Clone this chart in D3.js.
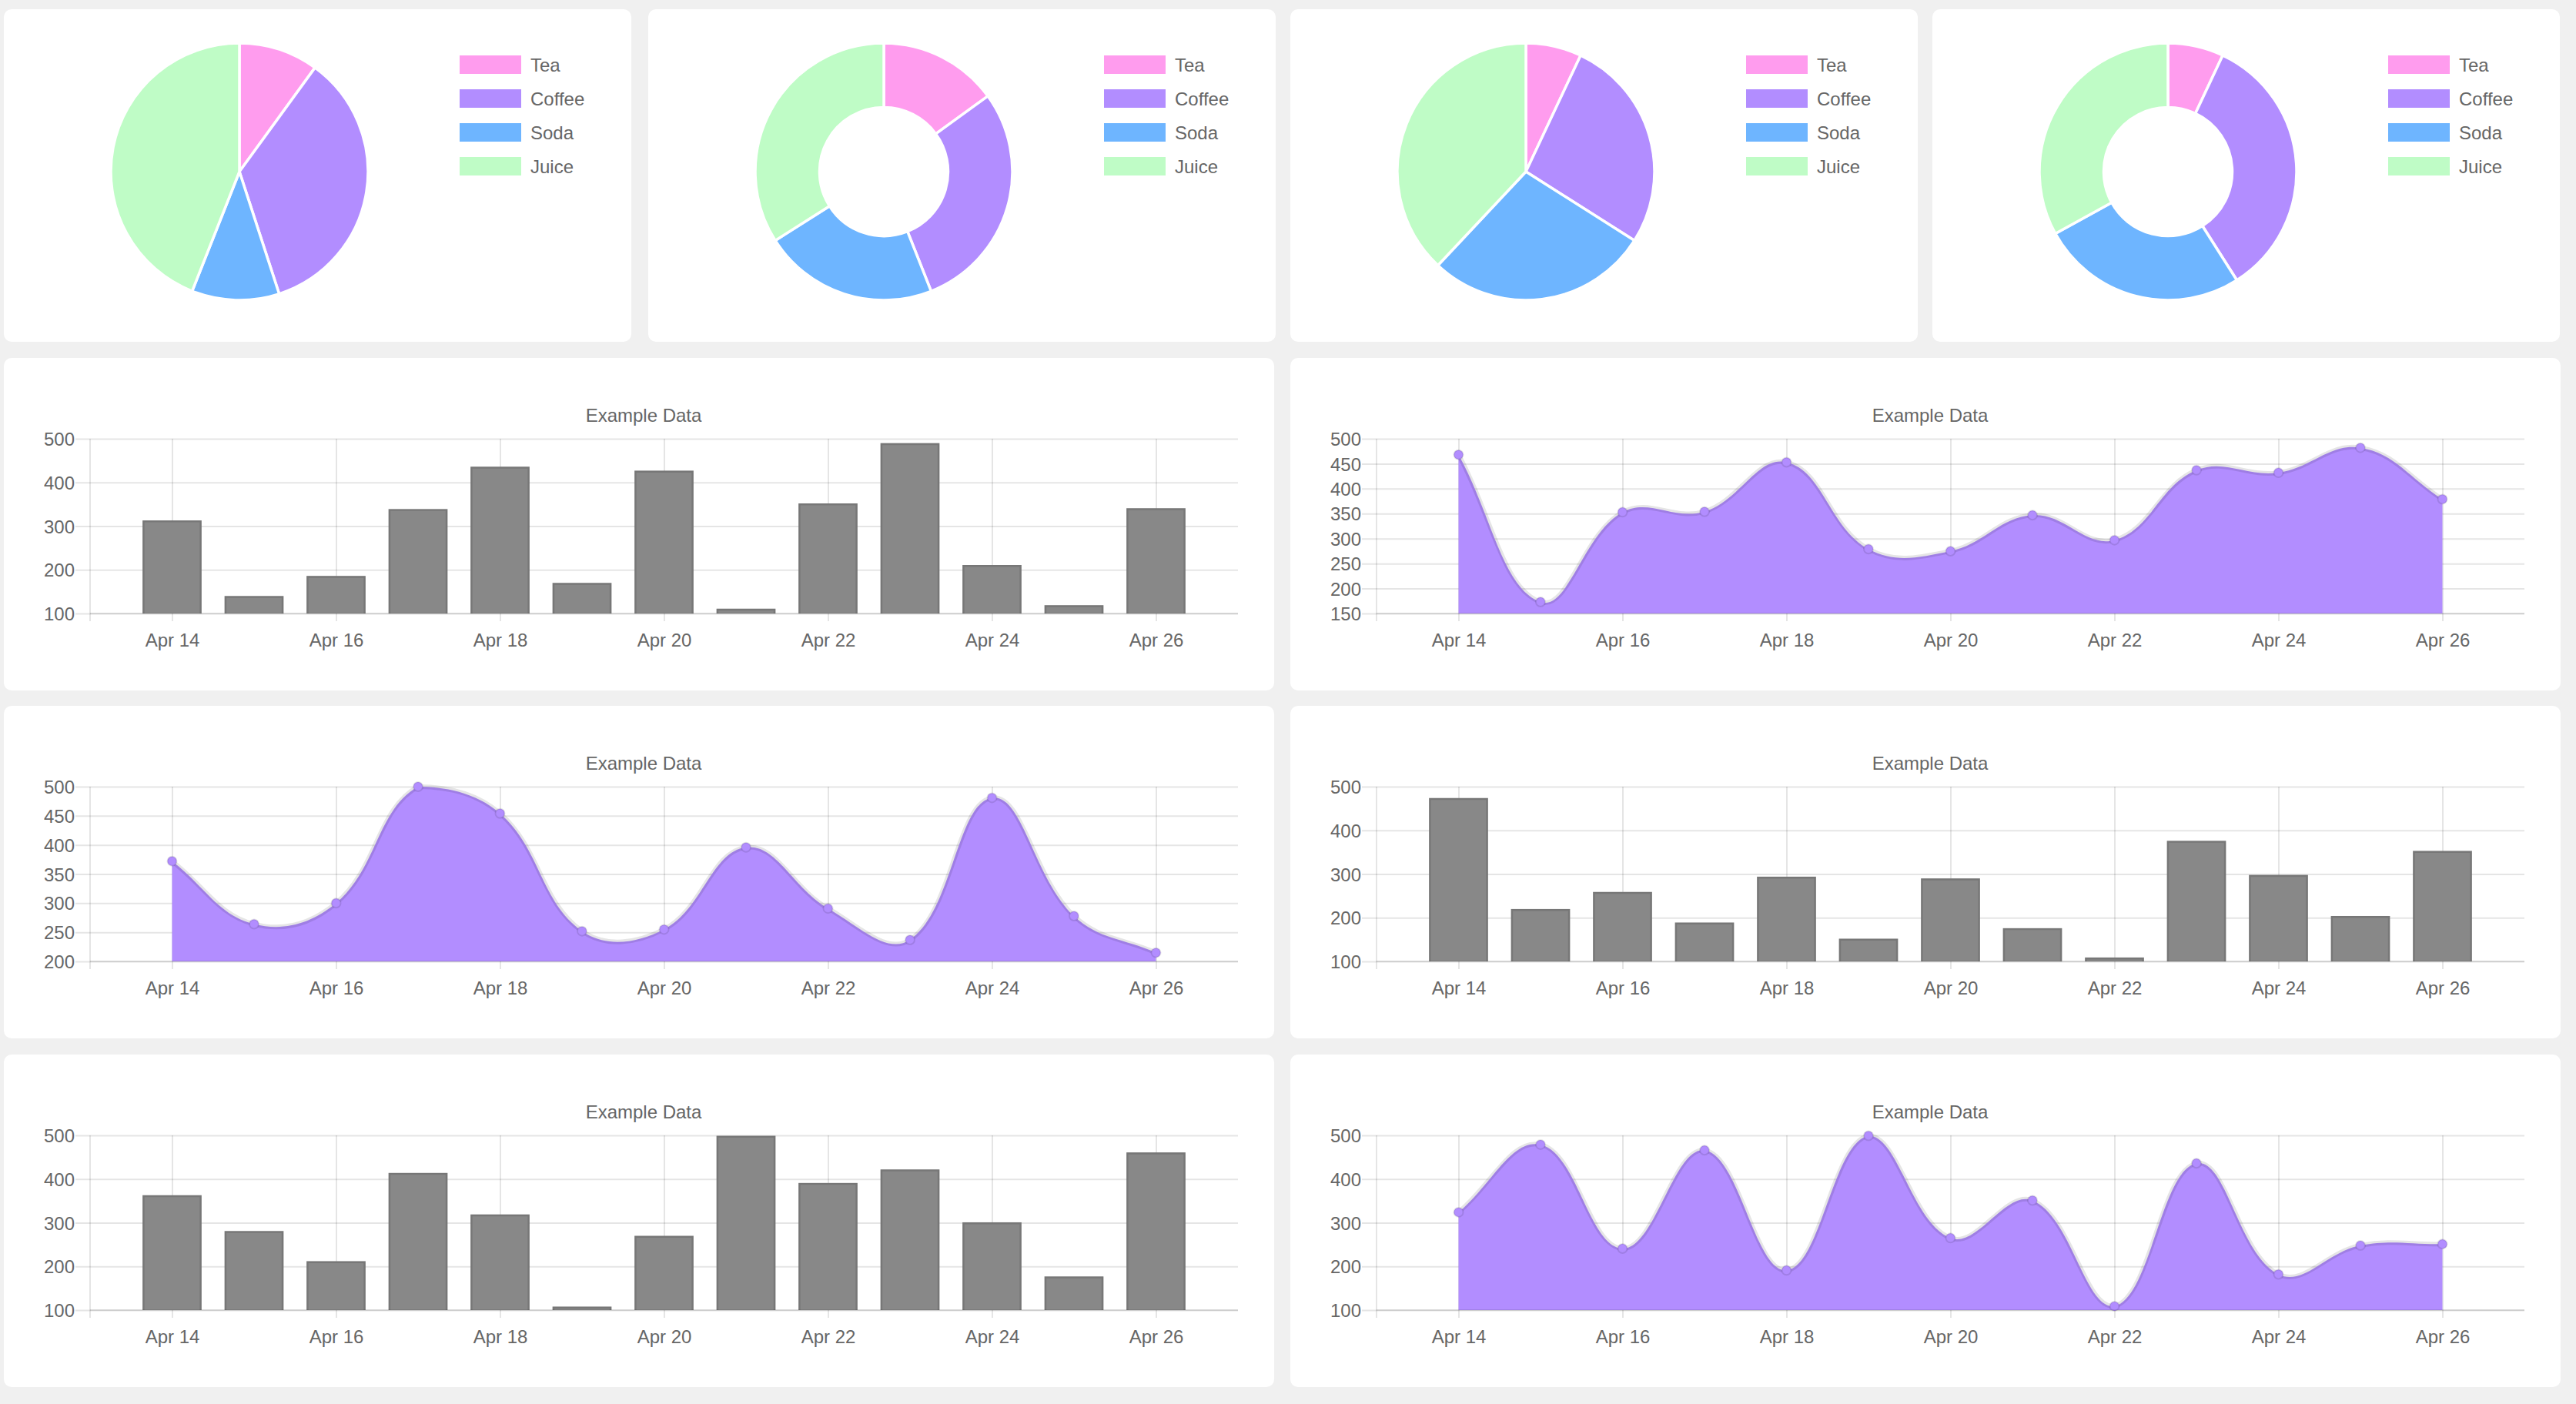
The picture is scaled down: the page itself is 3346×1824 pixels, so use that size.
<!DOCTYPE html>
<html>
<head>
<meta charset="utf-8">
<script src="https://cdn.jsdelivr.net/npm/d3@7"></script>
<style>
  html, body { margin: 0; padding: 0; background: #f0f0f0; overflow: hidden; }
  svg { display: block; }
  text { font-family: "Helvetica Neue", Helvetica, Arial, "Liberation Sans", sans-serif; font-size: 24px; fill: #666; }
</style>
</head>
<body>
<script>
// ---- data ----
const drinks = ["Tea", "Coffee", "Soda", "Juice"];
const drinkColors = ["#ff9cee", "#b28dff", "#6eb5ff", "#bffcc6"];

const pieA = [10, 35, 11, 44];
const donutB = [15, 29, 22, 34];
const pieC = [7, 27, 28, 38];
const donutD = [7, 34, 26, 33];

const days = ["Apr 14", "Apr 15", "Apr 16", "Apr 17", "Apr 18", "Apr 19", "Apr 20",
              "Apr 21", "Apr 22", "Apr 23", "Apr 24", "Apr 25", "Apr 26"];
const dayTicks = ["Apr 14", "Apr 16", "Apr 18", "Apr 20", "Apr 22", "Apr 24", "Apr 26"];

const barsA = [313, 140, 186, 339, 436, 170, 427, 111, 352, 490, 211, 119, 341];
const lineA = [468, 173, 353, 354, 453, 279, 275, 347, 297, 437, 432, 482, 379];
const lineB = [372, 264, 300, 500, 454, 252, 255, 396, 291, 237, 481, 278, 215];
const barsB = [474, 220, 259, 189, 294, 152, 290, 176, 109, 376, 298, 204, 353];
const barsC = [363, 281, 212, 414, 319, 108, 270, 499, 391, 422, 301, 177, 461];
const lineC = [324, 479, 241, 466, 191, 499, 265, 351, 109, 436, 182, 248, 251];

const ticksBy100 = [100, 200, 300, 400, 500];
const ticksFrom150 = [150, 200, 250, 300, 350, 400, 450, 500];
const ticksFrom200 = [200, 250, 300, 350, 400, 450, 500];

// ---- layout ----
const W = 3346, H = 1824;
const cardH = 432;
const rowY = [12, 465, 917, 1370];
const pieCardX = [5, 842, 1676, 2510], pieCardW = 815;
const wideCardX = [5, 1676], wideCardW = 1650;
const plot = { left: 112, right: 1603, top: 105, bottom: 332 };
const pieR = 167;

const pies = [
  { values: pieA, hole: false },
  { values: donutB, hole: true },
  { values: pieC, hole: false },
  { values: donutD, hole: true }
];

const panels = [
  { row: 1, col: 0, kind: "bar", values: barsA, ticks: ticksBy100 },
  { row: 1, col: 1, kind: "line", values: lineA, ticks: ticksFrom150 },
  { row: 2, col: 0, kind: "line", values: lineB, ticks: ticksFrom200 },
  { row: 2, col: 1, kind: "bar", values: barsB, ticks: ticksBy100 },
  { row: 3, col: 0, kind: "bar", values: barsC, ticks: ticksBy100 },
  { row: 3, col: 1, kind: "line", values: lineC, ticks: ticksBy100 }
];

const svg = d3.select("body")
  .append("svg")
    .attr("width", W)
    .attr("height", H);

svg.append("rect")
    .attr("width", W)
    .attr("height", H)
    .attr("fill", "#f0f0f0");

function card(x, y, w) {
  const g = svg.append("g").attr("transform", `translate(${x},${y})`);
  g.append("rect")
      .attr("width", w)
      .attr("height", cardH)
      .attr("rx", 10)
      .attr("fill", "#fff");
  return g;
}

// Chart.js style spline (tension 0.4), handles kept inside the plot area
function chartSpline(top, bottom, tension) {
  return function (context) {
    let pts = [];
    let line;
    const cap = v => Math.max(top, Math.min(bottom, v));
    function handles(i) {
      const cur = pts[i], prev = pts[i - 1] || cur, next = pts[i + 1] || cur;
      const d01 = Math.hypot(cur[0] - prev[0], cur[1] - prev[1]);
      const d12 = Math.hypot(next[0] - cur[0], next[1] - cur[1]);
      const s01 = d01 / (d01 + d12) || 0, s12 = d12 / (d01 + d12) || 0;
      const dx = next[0] - prev[0], dy = next[1] - prev[1];
      return {
        before: [cur[0] - tension * s01 * dx, cap(cur[1] - tension * s01 * dy)],
        after: [cur[0] + tension * s12 * dx, cap(cur[1] + tension * s12 * dy)]
      };
    }
    return {
      areaStart() { line = 0; },
      areaEnd() { line = NaN; },
      lineStart() { pts = []; },
      point(x, y) { pts.push([+x, +y]); },
      lineEnd() {
        pts.forEach((p, i) => {
          if (i === 0) {
            if (line) context.lineTo(p[0], p[1]); else context.moveTo(p[0], p[1]);
            return;
          }
          const a = handles(i - 1).after, b = handles(i).before;
          context.bezierCurveTo(a[0], a[1], b[0], b[1], p[0], p[1]);
        });
        if (line) context.closePath();
        line = 1 - line;
      }
    };
  };
}

// ---- pie / doughnut cards ----
pies.forEach((p, i) => {
  const g = card(pieCardX[i], rowY[0], pieCardW);

  const arc = d3.arc()
      .innerRadius(p.hole ? pieR * 0.5 : 0)
      .outerRadius(pieR);

  g.append("g")
      .attr("transform", "translate(306,211)")
    .selectAll("path")
    .data(d3.pie().sort(null)(p.values))
    .join("path")
      .attr("d", arc)
      .attr("fill", (d, j) => drinkColors[j])
      .attr("stroke", "#fff")
      .attr("stroke-width", 3.5)
      .attr("stroke-linejoin", "round");

  const legend = g.selectAll(".legend")
    .data(drinks)
    .join("g")
      .attr("class", "legend")
      .attr("transform", (d, j) => `translate(592,${72 + 44 * j})`);

  legend.append("rect")
      .attr("y", -12)
      .attr("width", 80)
      .attr("height", 24)
      .attr("fill", (d, j) => drinkColors[j]);

  legend.append("text")
      .attr("x", 92)
      .attr("dy", "0.36em")
      .text(d => d);
});

// ---- bar / line cards ----
panels.forEach(p => {
  const g = card(wideCardX[p.col], rowY[p.row], wideCardW);

  const x = d3.scalePoint()
      .domain(days)
      .range([plot.left, plot.right])
      .padding(1);
  const y = d3.scaleLinear()
      .domain(d3.extent(p.ticks))
      .range([plot.bottom, plot.top]);

  g.append("text")
      .attr("x", 831)
      .attr("y", 74)
      .attr("dy", "0.36em")
      .attr("text-anchor", "middle")
      .text("Example Data");

  // horizontal grid + y labels
  const yAxis = g.append("g")
      .attr("transform", "translate(93,0)")
      .call(d3.axisLeft(y).tickValues(p.ticks).tickSize(-(plot.right - 93)).tickPadding(1));
  yAxis.select(".domain").remove();
  yAxis.selectAll("line").attr("stroke", "rgba(0,0,0,0.1)").attr("stroke-width", 2);
  yAxis.selectAll("text").attr("fill", null).attr("font-size", null).attr("font-family", null).attr("dy", "0.36em");

  // vertical grid + x labels
  const xAxis = g.append("g")
      .attr("transform", `translate(0,${plot.bottom + 10})`)
      .call(d3.axisBottom(x).tickValues(dayTicks).tickSize(-(plot.bottom + 10 - plot.top)).tickPadding(16));
  xAxis.select(".domain").remove();
  xAxis.selectAll("line").attr("stroke", "rgba(0,0,0,0.1)").attr("stroke-width", 2);
  xAxis.selectAll("text").attr("fill", null).attr("font-size", null).attr("font-family", null);

  g.append("line")
      .attr("x1", plot.left).attr("x2", plot.left)
      .attr("y1", plot.top).attr("y2", plot.bottom + 10)
      .attr("stroke", "rgba(0,0,0,0.1)")
      .attr("stroke-width", 2);

  if (p.kind === "bar") {
    const bw = x.step() * 0.72;
    const bars = g.selectAll(".bar")
      .data(p.values)
      .join("g")
        .attr("class", "bar");
    bars.append("rect")
        .attr("x", (d, i) => x(days[i]) - bw / 2)
        .attr("y", d => y(d))
        .attr("width", bw)
        .attr("height", d => plot.bottom - y(d))
        .attr("fill", "#888");
    // border on left, top and right, drawn inside the bar
    bars.append("path")
        .attr("d", (d, i) => {
          const x0 = x(days[i]) - bw / 2 + 1.25, x1 = x(days[i]) + bw / 2 - 1.25, y0 = y(d) + 1.25;
          return `M${x0},${plot.bottom}V${y0}H${x1}V${plot.bottom}`;
        })
        .attr("fill", "none")
        .attr("stroke", "rgba(0,0,0,0.12)")
        .attr("stroke-width", 2.5);
  } else {
    const curve = chartSpline(plot.top, plot.bottom, 0.4);
    const area = d3.area()
        .x((d, i) => x(days[i]))
        .y0(plot.bottom)
        .y1(d => y(d))
        .curve(curve);
    const line = d3.line()
        .x((d, i) => x(days[i]))
        .y(d => y(d))
        .curve(curve);

    g.append("path")
        .attr("d", area(p.values))
        .attr("fill", "#b28dff");
    g.append("path")
        .attr("d", line(p.values))
        .attr("fill", "none")
        .attr("stroke", "rgba(0,0,0,0.1)")
        .attr("stroke-width", 6);
    g.selectAll(".pt")
      .data(p.values)
      .join("circle")
        .attr("class", "pt")
        .attr("cx", (d, i) => x(days[i]))
        .attr("cy", d => y(d))
        .attr("r", 6)
        .attr("fill", "#b28dff")
        .attr("stroke", "rgba(0,0,0,0.1)")
        .attr("stroke-width", 2);
  }

  // x-axis border over the lowest gridline
  g.append("line")
      .attr("x1", plot.left).attr("x2", plot.right)
      .attr("y1", plot.bottom).attr("y2", plot.bottom)
      .attr("stroke", "rgba(0,0,0,0.1)")
      .attr("stroke-width", 2);
});
</script>
</body>
</html>
